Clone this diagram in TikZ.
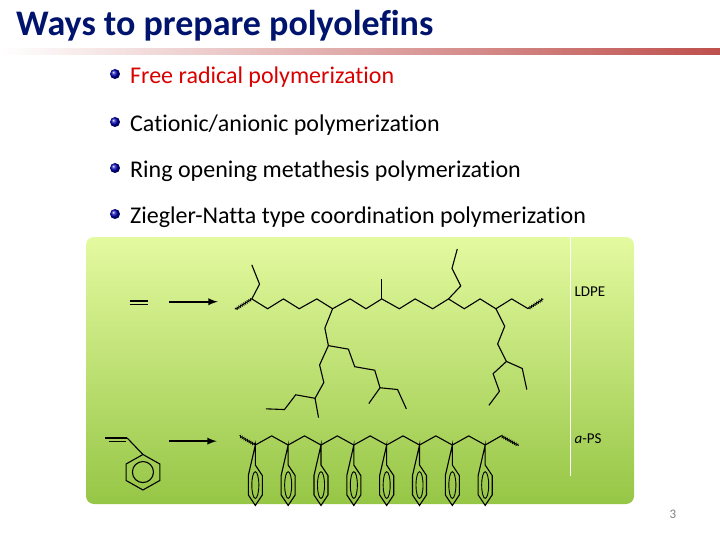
\documentclass[tikz,border=0pt]{standalone}
\usepackage{fontspec}
\setmainfont[Ligatures={NoCommon,NoContextual}]{Carlito}
\usetikzlibrary{decorations.pathmorphing}
\definecolor{topg}{RGB}{228,250,160}
\definecolor{botg}{RGB}{150,198,70}
\definecolor{barr}{RGB}{190,80,77}
\definecolor{ttl}{RGB}{0,20,110}
\begin{document}
\begin{tikzpicture}[x=1pt,y=-1pt,
  bul/.style={circle,inner sep=0pt,minimum size=10pt,shading=ball,ball color=blue!70!black},
  item/.style={anchor=west,font=\fontsize{24}{28}\selectfont,inner sep=0pt},
  bond/.style={line width=1.1pt,line join=miter},
  wav/.style={line width=0.8pt,decorate,decoration={snake,amplitude=1pt,segment length=2pt}},
  arr/.style={line width=2.2pt,-{latex}}]
\useasboundingbox (0,0) rectangle (720,540);
\node[anchor=west,inner sep=0pt,text=ttl,font=\fontsize{36}{40}\selectfont\bfseries] (title) at (16,26) {Ways to prepare polyolefins};
\shade[left color=white,right color=barr] (0,49) rectangle (720,55);
\foreach \y/\t/\c [count=\i] in {77/{Free radical polymerization}/red!85!black,125/{Cationic\slash anionic polymerization}/black,171/{Ring opening metathesis polymerization}/black,217/{Ziegler-Natta type coordination polymerization}/black}{
  \node[bul] (b\i) at (115,\y-3) {};
  \node[item,text=\c] (t\i) at (130,\y) {\t};
}
\shade[rounded corners=8pt,top color=topg,bottom color=botg] (86,237) rectangle (634,504);
\coordinate (vl1) at (570,237); \coordinate (vl2) at (570,476);
\draw[white,line width=1pt] (vl1) -- (vl2);
\node[anchor=west,font=\fontsize{15}{18}\selectfont] (ldpe) at (571,292) {LDPE};
\node[anchor=west,font=\fontsize{15}{18}\selectfont] (aps) at (571,439) {\textit{a}-PS};
\begin{scope}[xshift=85pt,yshift=-235pt,x=0.3512pt,y=-0.3512pt]
% ethylene
\draw[bond,line width=1.5pt] (127,188) -- (180,188) (127,198) -- (180,198);
\coordinate (a1s) at (240,190); \coordinate (a1e) at (378,190);
\coordinate (a2s) at (240,587); \coordinate (a2e) at (375,587);
\draw[arr] (a1s) -- (a1e);
\draw[arr] (a2s) -- (a2e);
% LDPE
\draw[wav] (428,212) -- (475,182);
\draw[bond] (475,182) -- (520,210) -- (565,182) -- (610,210) -- (660,182) -- (705,210) -- (755,182) -- (800,210) -- (845,182) -- (895,210) -- (940,182) -- (990,210) -- (1035,182) -- (1080,210) -- (1125,182) -- (1170,210) -- (1215,182) -- (1262,210);
\draw[wav] (1262,210) -- (1305,182);
\draw[bond] (475,182) -- (497,140) -- (475,85);
\draw[bond] (845,182) -- (845,125);
\draw[bond] (1035,182) -- (1070,145) -- (1045,95) -- (1060,40);
\draw[bond] (705,210) -- (683,265) -- (693,315) -- (668,370) -- (680,420) -- (655,465) -- (600,455) -- (568,497) -- (515,495);
\draw[bond] (655,465) -- (665,520);
\draw[bond] (693,315) -- (750,325) -- (768,375) -- (825,385) -- (840,435) -- (808,480);
\draw[bond] (840,435) -- (890,440) -- (915,495);
\draw[bond] (1170,210) -- (1195,260) -- (1175,310) -- (1200,360) -- (1162,395) -- (1180,445) -- (1150,485);
\draw[bond] (1200,360) -- (1245,380) -- (1258,440);
% styrene
\draw[bond] (58,578) -- (120,578) (68,588) -- (118,588);
\draw[bond] (120,578) -- (165,625);
\draw[bond] (165,625) -- (213,652) -- (213,699) -- (165,726) -- (117,699) -- (117,652) -- cycle;
\draw[bond] (165,675) circle (30);
% PS
\draw[wav] (440,572) -- (485,598);
\draw[bond] (485,598) \foreach \k in {1,...,7} { -- ({485+93.5*\k-47},572) -- ({485+93.5*\k},598)} -- (1185,572);
\draw[wav] (1185,572) -- (1235,600);
\foreach \k in {0,...,7}{
  \pgfmathsetmacro{\xx}{485+93.5*\k}
  \draw[bond] (\xx,598) -- (\xx,655) -- (\xx+20,685) -- (\xx+20,740) -- (\xx,770) -- (\xx-20,740) -- (\xx-20,685) -- cycle;
  \draw[bond,line width=0.9pt] (\xx,712) ellipse (10 and 38);
}
\end{scope}
\node[text=gray,font=\fontsize{13}{15}\selectfont] (pg) at (673,514) {3};
\end{tikzpicture}
\end{document}
